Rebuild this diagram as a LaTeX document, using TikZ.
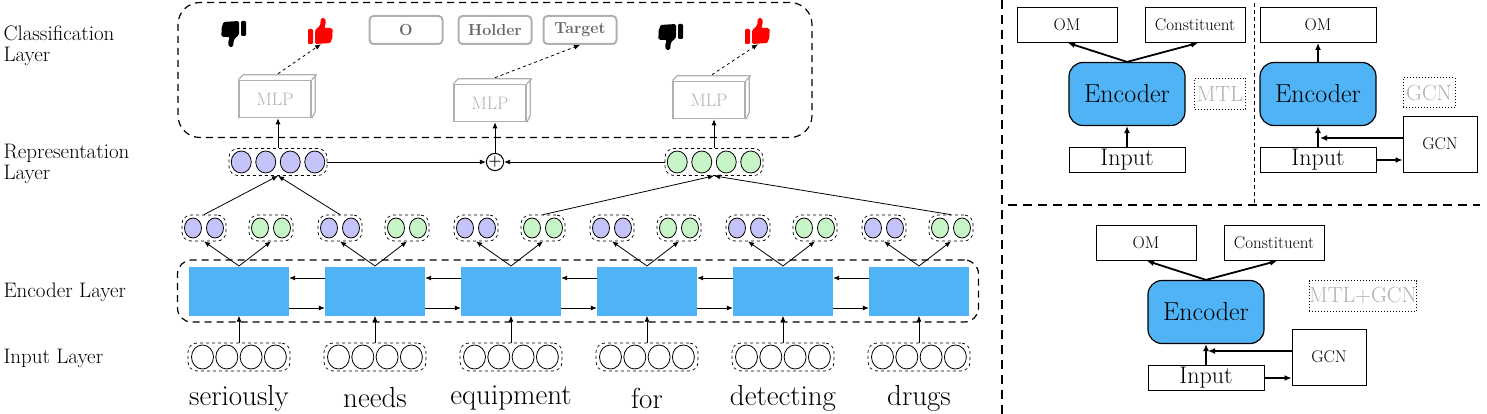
\documentclass[tikz,border=0pt]{standalone}
\usetikzlibrary{arrows.meta,shapes.geometric}
\definecolor{encblue}{HTML}{4FB3F6}
\definecolor{pur}{HTML}{C4C4FA}
\definecolor{grn}{HTML}{C8F5C8}
\definecolor{gr}{HTML}{B0B0B0}
\newcommand\fs[1]{\fontsize{#1}{#1}\selectfont}
\begin{document}
\begin{tikzpicture}[x=1pt,y=-1pt,
  thumb/.pic={\fill[rounded corners=1.2] (-13,-2) rectangle (-8,13);
    \fill[rounded corners=1.5] (-6,-1) -- (-1,-5) -- (0,-13) -- (4,-13) -- (5,-8) -- (3,-3) -- (11,-3) -- (12,0) -- (11,3) -- (12,6) -- (10,9) -- (10,12) -- (-6,13) -- cycle;},
  arr/.style={-{Latex[length=6,width=5]},line width=0.8},
  barr/.style={-{Latex[length=7,width=6]},line width=1.8},
  grp/.style={draw,dashed,rounded corners=9,line width=0.7,inner sep=0},
  enc/.style={fill=encblue,minimum width=100,minimum height=49,inner sep=0},
  lbl/.style={anchor=west,align=left,font=\fs{21}},
  gbox/.style={draw=gr,line width=2,rounded corners=4,text=black!60,font=\bfseries\fs{16},minimum height=28,minimum width=73,inner sep=0},
  mlp/.style={draw=gr,line width=1.6,text=gr,font=\fs{18},minimum width=72,minimum height=37,inner sep=0},
  wbox/.style={draw,line width=0.9,fill=white,font=\fs{17},inner sep=0},
  benc/.style={draw,line width=1.2,fill=encblue,rounded corners=14,font=\fs{26},inner sep=0,minimum width=116,minimum height=63},
  dot/.style={draw,dotted,line width=1,text=gr,font=\fs{22},inner sep=0},
  tn/.style={minimum size=26,inner sep=0}]
\useasboundingbox (0,0) rectangle (1487,414);
% left labels
\node[lbl] (lc) at (0,46) {Classification\\Layer};
\node[lbl] (lr) at (0,164) {Representation\\Layer};
\node[lbl] (le) at (0,292) {Encoder Layer};
\node[lbl] (li) at (0,358) {Input Layer};
% classification box
\node[grp,rounded corners=22,line width=1.2,dash pattern=on 7pt off 5pt,minimum width=634,minimum height=135] (cls) at (495,70) {};
\node[tn] (td1) at (233,34) {};
\node[tn] (tu1) at (321,31) {};
\node[tn] (td2) at (670,37) {};
\node[tn] (tu2) at (758,31) {};
\pic[rotate=180] at (td1) {thumb};
\pic[red] at (tu1) {thumb};
\pic[rotate=180] at (td2) {thumb};
\pic[red] at (tu2) {thumb};
\node[gbox] (o) at (406,30) {O};
\node[gbox] (h) at (495,30) {Holder};
\node[gbox] (t) at (580,30) {Target};
\foreach \n/\x/\y in {m1/275/99,m2/490/103,m3/709/100}{
  \node[mlp] (\n) at (\x,\y) {MLP};
  \draw[gr,line width=1.2] (\n.north west) -- ++(5,-5) -- ++(72,0) -- ++(0,37) -- (\n.south east) (\n.north east) -- ++(5,-5);
}
\draw[arr,dashed] (m1.north)++(3,-6) -- (tu1.south);
\draw[arr,dashed] (m2.north)++(5,-6) -- (t.south);
\draw[arr,dashed] (m3.north)++(3,-6) -- (tu2.south);
% representation
\node[grp,minimum width=98,minimum height=27] (rp) at (278,162) {};
\foreach \i in {0,...,3} \draw[fill=pur,line width=0.8] (241.25+24.5*\i,162) ellipse (10 and 11);
\node[grp,minimum width=98,minimum height=27] (rg) at (714,162) {};
\foreach \i in {0,...,3} \draw[fill=grn,line width=0.8] (677.25+24.5*\i,162) ellipse (10 and 11);
\node[draw,circle,line width=1,minimum size=15,inner sep=0,font=\bfseries\fs{15}] (pl) at (495,162) {+};
\draw[arr] (rp) -- (pl);
\draw[arr] (rg) -- (pl);
\draw[arr] (rp) -- (rp|-m1.south);
\draw[arr] (pl) -- (pl|-m2.south);
\draw[arr] (rg) -- (rg|-m3.south);
% encoder layer
\node[grp,rounded corners=14,line width=1.2,dash pattern=on 7pt off 5pt,minimum width=801,minimum height=62] (encbox) at (578,291) {};
\foreach \k in {1,...,6}{
  \pgfmathsetmacro\cx{239+136*(\k-1)}
  \node[enc] (e\k) at (\cx,291) {};
  \node[grp,minimum width=44,minimum height=26] (p\k) at (\cx-35,228) {};
  \draw[fill=pur,line width=0.8] (\cx-46,228) ellipse (8.5 and 10) (\cx-24,228) ellipse (8.5 and 10);
  \node[grp,minimum width=44,minimum height=26] (g\k) at (\cx+32,228) {};
  \draw[fill=grn,line width=0.8] (\cx+21,228) ellipse (8.5 and 10) (\cx+43,228) ellipse (8.5 and 10);
  \coordinate (et\k) at (\cx,266);
  \draw[arr] (et\k) -- (p\k.south);
  \draw[arr] (et\k) -- (g\k.south);
  \node[grp,minimum width=102,minimum height=28] (in\k) at (\cx,357) {};
  \foreach \i in {0,...,3} \draw[line width=0.8] (\cx-36.5+24.3*\i,357) ellipse (11 and 12);
  \draw[arr] (in\k) -- (e\k);
}
\foreach \w [count=\k] in {seriously,needs,equipment,for,detecting,drugs}{
  \pgfmathsetmacro\cx{239+136*(\k-1)}
  \node[font=\fs{29}] (w\k) at (\cx,398) {\w};
}
\foreach \a/\b in {1/2,2/3,3/4,4/5,5/6}{
  \draw[arr] ([yshift=13]e\b.west) -- ([yshift=13]e\a.east);
  \draw[arr] ([yshift=-17]e\a.east) -- ([yshift=-17]e\b.west);
}
\draw[arr] (p1.north) -- (rp.south);
\draw[arr] (p2.north) -- (rp.south);
\draw[arr] (g3.north) -- (rg.south);
\draw[arr] (g6.north) -- (rg.south);
% right panel separators
\draw[line width=2,dash pattern=on 9pt off 6pt] (1002,0) -- (1002,414);
\draw[line width=2,dash pattern=on 9pt off 6pt] (1008,205) -- (1480,205);
\draw[line width=1,dash pattern=on 4pt off 3pt] (1254,3) -- (1254,205);
% panel A
\node[wbox,minimum width=100,minimum height=35] (aom) at (1067,25) {OM};
\node[wbox,minimum width=100,minimum height=35] (acon) at (1195,25) {Constituent};
\node[benc] (aenc) at (1127,94) {Encoder};
\node[dot,minimum width=51,minimum height=31] (amtl) at (1220,94) {MTL};
\node[wbox,minimum width=116,minimum height=25,font=\fs{24}] (ain) at (1127,160) {Input};
\draw[barr] (aenc.north) -- ([xshift=1]aom.south);
\draw[barr] (aenc.north) -- ([xshift=3]acon.south);
\draw[barr] (ain) -- (aenc);
% panel B
\node[wbox,minimum width=116,minimum height=35] (bom) at (1318,25) {OM};
\node[benc] (benc) at (1318,94) {Encoder};
\node[dot,minimum width=52,minimum height=30] (bg) at (1429,93) {GCN};
\node[wbox,minimum width=116,minimum height=25,font=\fs{24}] (bin) at (1318,160) {Input};
\node[wbox,minimum width=74,minimum height=56] (bgc) at (1440,144) {GCN};
\draw[barr] (benc) -- (bom);
\draw[barr] (bin) -- (benc);
\draw[barr] ([yshift=6]bgc.west) -- (1320,138);
\draw[barr] (bin.east) -- (bin.east -| bgc.west);
% panel C
\node[wbox,minimum width=100,minimum height=35] (com) at (1146,243) {OM};
\node[wbox,minimum width=100,minimum height=35] (ccon) at (1274,243) {Constituent};
\node[benc] (cenc) at (1206,312) {Encoder};
\node[dot,minimum width=106,minimum height=31] (cmg) at (1363,296) {MTL+GCN};
\node[wbox,minimum width=116,minimum height=25,font=\fs{24}] (cin) at (1206,378) {Input};
\node[wbox,minimum width=74,minimum height=56] (cgc) at (1329,357) {GCN};
\draw[barr] (cenc.north) -- ([xshift=1]com.south);
\draw[barr] (cenc.north) -- ([xshift=3]ccon.south);
\draw[barr] (cin) -- (cenc);
\draw[barr] ([yshift=6]cgc.west) -- (1208,351);
\draw[barr] (cin.east) -- (cin.east -| cgc.west);
\end{tikzpicture}
\end{document}
